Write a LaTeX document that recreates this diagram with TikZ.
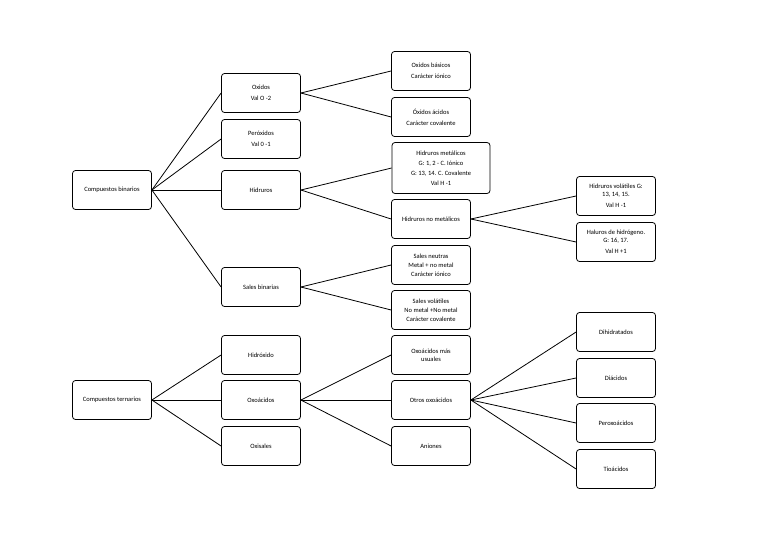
\documentclass[tikz,border=0pt]{standalone}
\usepackage{fontspec}
\setmainfont{Carlito}
\begin{document}
\begin{tikzpicture}[x=1pt,y=-1pt,
 b/.style={draw,rounded corners=3pt,line width=0.8pt,minimum width=79pt,minimum height=39pt,align=center,font=\fontsize{6.5}{11}\selectfont,inner sep=1pt},
 w/.style={b,minimum width=98pt},
 l/.style={line width=0.8pt}]
\useasboundingbox (0,0) rectangle (768,543);
\node[b] (cb) at (112,190) {Compuestos binarios};
\node[b] (ox) at (261,93) {Oxidos\\Val O -2};
\node[b] (pe) at (261,139) {Peróxidos\\Val 0 -1};
\node[b] (hi) at (261,190) {Hidruros};
\node[b] (sb) at (261,287) {Sales binarias};
\node[b] (ob) at (431,71) {Oxidos básicos\\Carácter iónico};
\node[b] (oa) at (431,117) {Óxidos ácidos\\Carácter covalente};
\node[w,minimum height=51pt,font=\fontsize{6.5}{10}\selectfont] (hm) at (441,168) {Hidruros metálicos\\G: 1, 2 - C. Iónico\\G: 13, 14. C. Covalente\\Val H -1};
\node[b] (hn) at (431,219) {Hidruros no metálicos};
\node[b,font=\fontsize{6.5}{9}\selectfont] (sn) at (431,265) {Sales neutras\\Metal + no metal\\Carácter iónico};
\node[b,font=\fontsize{6.5}{9}\selectfont] (sv) at (431,310) {Sales volátiles\\No metal +No metal\\Carácter covalente};
\node[b,font=\fontsize{6.5}{8}\selectfont] (hv) at (616,196) {Hidruros volátiles G:\\13, 14, 15.\\[3pt]Val H -1};
\node[b,font=\fontsize{6.5}{8}\selectfont] (ha) at (616,242) {Haluros de hidrógeno.\\G: 16, 17.\\[3pt]Val H +1};
\node[b] (ct) at (112,400) {Compuestos ternarios};
\node[b] (hx) at (261,355) {Hidróxido};
\node[b] (oo) at (261,400) {Oxoácidos};
\node[b] (os) at (261,446) {Oxisales};
\node[b,font=\fontsize{6.5}{8}\selectfont] (mu) at (431,355) {Oxoácidos más\\usuales};
\node[b] (ot) at (431,400) {Otros oxoácidos};
\node[b] (an) at (431,446) {Aniones};
\node[b] (dh) at (616,332) {Dihidratados};
\node[b] (da) at (616,378) {Diácidos};
\node[b] (px) at (616,423) {Peroxoácidos};
\node[b] (ti) at (616,469) {Tioácidos};
\foreach \a/\c in {cb/ox,cb/pe,cb/hi,cb/sb,ox/ob,ox/oa,hi/hm,hi/hn,sb/sn,sb/sv,hn/hv,hn/ha,ct/hx,ct/oo,ct/os,oo/mu,oo/ot,oo/an,ot/dh,ot/da,ot/px,ot/ti}
  \draw[l] (\a.east) -- (\c.west);
\end{tikzpicture}
\end{document}
